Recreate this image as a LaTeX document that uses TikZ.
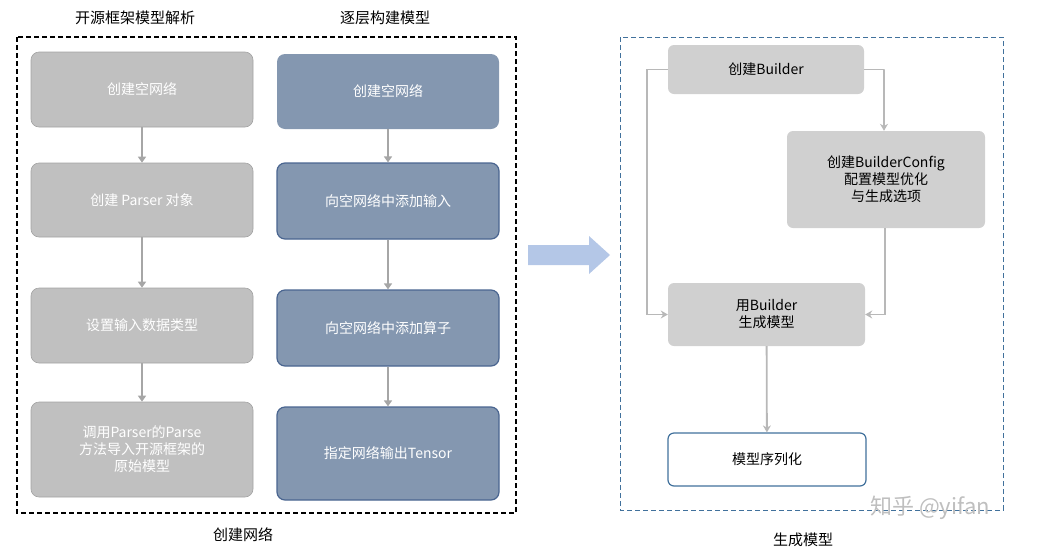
\documentclass[tikz,border=0pt]{standalone}
\usepackage{fontspec}
\setmainfont{Noto Sans CJK SC}
\usetikzlibrary{arrows.meta}
\definecolor{lg}{HTML}{C0C0C0}
\definecolor{bg}{HTML}{8497B0}
\definecolor{bd}{HTML}{4A6590}
\definecolor{rg}{HTML}{D0D0D0}
\definecolor{ar}{HTML}{A6A6A6}
\definecolor{bb}{HTML}{B4C7E7}
\definecolor{db}{HTML}{41719C}
\tikzset{
 gbox/.style={draw=lg!85!black,line width=0.6pt,fill=lg,rounded corners=8pt,text=white,font=\fontsize{14}{17}\selectfont,align=center,inner sep=0pt},
 bbox/.style={fill=bg,rounded corners=8pt,text=white,font=\fontsize{14}{17}\selectfont,align=center,inner sep=0pt},
 rbox/.style={fill=rg,rounded corners=6pt,text=black,font=\fontsize{14}{17}\selectfont,align=center,inner sep=0pt},
 arr/.style={draw=ar,line width=2pt,-{Triangle[length=6pt,width=8pt]}},
 rarr/.style={draw=ar!80,line width=1.8pt,-{Stealth[length=7pt,width=8pt]}},
 ttl/.style={font=\fontsize{15}{18}\selectfont}
}
\begin{document}
\begin{tikzpicture}[x=1pt,y=-1pt]
\useasboundingbox (0,0) rectangle (1044,555);
\draw[line width=1.6pt,dash pattern=on 5pt off 3pt] (17,37) rectangle (516,513);
\draw[db,line width=1pt,dash pattern=on 5pt off 3pt] (620,37) rectangle (1003,510);
\node[ttl] (t1) at (135,18) {开源框架模型解析};
\node[ttl] (t2) at (385,18) {逐层构建模型};
\node[ttl] (t3) at (243,535) {创建网络};
\node[ttl] (t4) at (803,540) {生成模型};
% left
\node[gbox,minimum width=222pt,minimum height=75pt] (l1) at (142,89.5) {创建空网络};
\node[gbox,minimum width=222pt,minimum height=74pt] (l2) at (142,200) {创建 Parser 对象};
\node[gbox,minimum width=222pt,minimum height=75pt] (l3) at (142,325.5) {设置输入数据类型};
\node[gbox,minimum width=222pt,minimum height=95pt] (l4) at (142,449.5) {调用Parser的Parse\\方法导入开源框架的\\原始模型};
\draw[arr] (l1) -- (l2); \draw[arr] (l2) -- (l3); \draw[arr] (l3) -- (l4);
% middle
\node[bbox,minimum width=222pt,minimum height=75pt] (m1) at (388,91.5) {创建空网络};
\node[bbox,draw=bd,line width=1.2pt,minimum width=222pt,minimum height=76pt] (m2) at (388,201) {向空网络中添加输入};
\node[bbox,draw=bd,line width=1.2pt,minimum width=222pt,minimum height=76pt] (m3) at (388,328) {向空网络中添加算子};
\node[bbox,draw=bd,line width=1.2pt,minimum width=222pt,minimum height=93pt] (m4) at (388,453.5) {指定网络输出Tensor};
\draw[arr] (m1) -- (m2); \draw[arr] (m2) -- (m3); \draw[arr] (m3) -- (m4);
% big arrow
\fill[bb] (528,245) -- (589,245) -- (589,236) -- (610,255) -- (589,274) -- (589,265) -- (528,265) -- cycle;
% right
\node[rbox,minimum width=196pt,minimum height=49pt] (r1) at (766,69.5) {创建Builder};
\node[rbox,minimum width=198pt,minimum height=97pt] (r2) at (886,179.5) {创建BuilderConfig\\配置模型优化\\与生成选项};
\node[rbox,minimum width=197pt,minimum height=63pt] (r3) at (766.5,314.5) {用Builder\\生成模型};
\node[draw=db,line width=1.2pt,fill=white,rounded corners=6pt,minimum width=198pt,minimum height=53pt,font=\fontsize{14}{17}\selectfont] (r4) at (767,459.5) {模型序列化};
\draw[rarr] (r1.east) -- ++(20,0) -| ([xshift=-2pt]r2.north);
\draw[rarr] ([xshift=-1pt]r2.south) |- (r3.east);
\draw[rarr] (r1.west) -- ++(-21,0) |- (r3.west);
\draw[rarr] (r3) -- (r4);
\node[text=black!25,font=\fontsize{22}{26}\selectfont] (wm) at (930,508) {知乎 @yifan};
\end{tikzpicture}
\end{document}
